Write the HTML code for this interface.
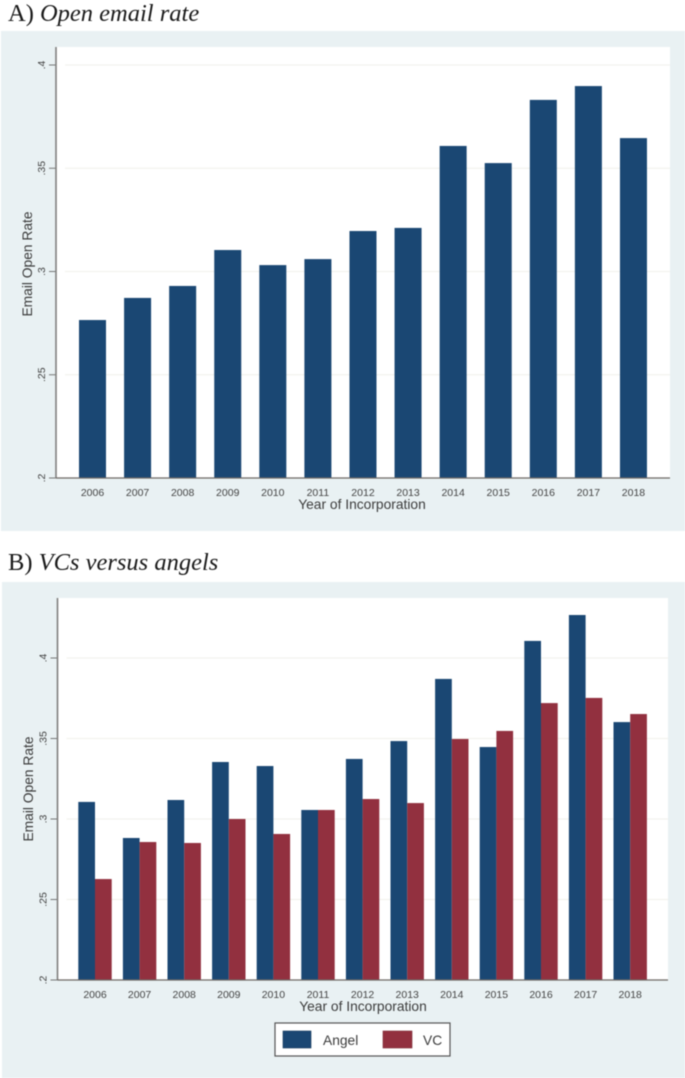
<!DOCTYPE html>
<html lang="en">
<head>
<meta charset="utf-8">
<title>Email open rate by year of incorporation</title>
<style>
html,body{margin:0;padding:0;background:#fff;width:685px;height:1078px;overflow:hidden}
svg{display:block;filter:blur(0.45px)}
.cap{font-family:"Liberation Serif",serif;font-size:24.5px;fill:#1a1a1a}
.tk{font-family:"Liberation Sans",sans-serif;font-size:10.5px;fill:#444}
.ttl{font-family:"Liberation Sans",sans-serif;font-size:13.8px;fill:#3c3c3c}
</style>
</head>
<body>
<svg id="figure" xmlns="http://www.w3.org/2000/svg" width="685" height="1078" viewBox="0 0 685 1078">
  <text class="cap" x="8" y="21">A) <tspan font-style="italic">Open email rate</tspan></text>
  <text class="cap" x="8" y="570">B) <tspan font-style="italic">VCs versus angels</tspan></text>
  <g id="panelA"></g>
  <g id="panelB"></g>
  <g>
    <rect x="275" y="1023" width="175" height="33" fill="#fff" stroke="#555" stroke-width="1.2"/>
    <rect x="283" y="1031" width="28" height="17" fill="#1a4773" stroke="#15375a" stroke-width="0.6"/>
    <text class="ttl" x="323" y="1045">Angel</text>
    <rect x="383" y="1031" width="29" height="17" fill="#92303f" stroke="#7c2a36" stroke-width="0.6"/>
    <text class="ttl" x="423" y="1045">VC</text>
  </g>
</svg>
<script>
const years = ['2006','2007','2008','2009','2010','2011','2012','2013','2014','2015','2016','2017','2018'];
const openRateAll = [0.2765,0.2872,0.2930,0.3104,0.3031,0.3060,0.3196,0.3211,0.3608,0.3525,0.3831,0.3898,0.3646];
const openRateAngel = [0.3106,0.2882,0.3118,0.3354,0.3329,0.3056,0.3373,0.3484,0.3870,0.3447,0.4106,0.4267,0.3602];
const openRateVC = [0.2627,0.2857,0.2851,0.3000,0.2907,0.3056,0.3124,0.3099,0.3497,0.3547,0.3720,0.3752,0.3652];
const yTicks = [0.2,0.25,0.3,0.35,0.4];
const yTickLabels = ['.2','.25','.3','.35','.4'];
const xAxisTitle = 'Year of Incorporation';
const yAxisTitle = 'Email Open Rate';

const NS = 'http://www.w3.org/2000/svg';
function mk(parent, tag, attrs, text) {
  const el = document.createElementNS(NS, tag);
  for (const k in attrs) el.setAttribute(k, attrs[k]);
  if (text !== undefined) el.textContent = text;
  parent.appendChild(el);
  return el;
}

function drawPanel(parent, cfg) {
  const yScale = v => cfg.y0 + (v - 0.2) * cfg.pxPerUnit;
  const xScale = i => cfg.x0 + i * cfg.step;
  const ax = cfg.axisX;

  const bg = mk(parent, 'rect', {x: cfg.bgLeft, y: cfg.bgTop, width: 685 - cfg.bgLeft, height: cfg.bgBottom - cfg.bgTop, fill: '#e9f1f3'});
  
  

  const plot = mk(parent, 'rect', {x: ax, y: cfg.plotTop, width: cfg.plotRight - ax, height: yScale(0.2) - cfg.plotTop, fill: '#fff'});
  
  

  yTicks.forEach((t, i) => {
    const y = yScale(t);
    if (i > 0) {
      const grid = mk(parent, 'line', {x1: ax + 9, x2: cfg.plotRight, y1: y, y2: y, stroke: '#f3f3ee', 'stroke-width': 1.2});
      
      
    }
    const tick = mk(parent, 'line', {x1: ax - 7, x2: ax, y1: y, y2: y, stroke: '#777', 'stroke-width': 1});
    
    
    const lab = mk(parent, 'text', {class: 'tk', x: 0, y: 0, 'text-anchor': 'middle', transform: 'translate(' + (ax - 11) + ' ' + y + ') rotate(-90)'}, yTickLabels[i]);
    
    
  });

  const n = cfg.series.length;
  cfg.series.forEach(s => {
    s.values.forEach((v, i) => {
      const top = yScale(v);
      const left = xScale(i) - n * cfg.barW / 2 + s.index * cfg.barW;
      const bar = mk(parent, 'rect', {x: left, y: top, width: cfg.barW, height: yScale(0.2) - top, fill: s.color});
      
      
    });
  });

  years.forEach((yr, i) => {
    const lab = mk(parent, 'text', {class: 'tk', x: xScale(i), y: yScale(0.2) + 18, 'text-anchor': 'middle'}, yr);
    
    
  });

  const yAxis = mk(parent, 'line', {x1: ax, x2: ax, y1: cfg.plotTop, y2: yScale(0.2), stroke: '#807f7d', 'stroke-width': 1.6});
  
  
  const xAxis = mk(parent, 'line', {x1: ax, x2: cfg.plotRight, y1: yScale(0.2), y2: yScale(0.2), stroke: '#6f6a66', 'stroke-width': 1.2});
  
  

  const xt = mk(parent, 'text', {class: 'ttl', x: cfg.xTitleX, y: yScale(0.2) + 31, 'text-anchor': 'middle'}, xAxisTitle);
  
  
  const yt = mk(parent, 'text', {class: 'ttl', x: 0, y: 0, 'text-anchor': 'middle', transform: 'translate(' + cfg.yTitleX + ' ' + cfg.yTitleY + ') rotate(-90)'}, yAxisTitle);
  
  
}

drawPanel(document.getElementById('panelA'), {
  bgLeft: 1, bgTop: 31, bgBottom: 531, plotTop: 47, plotRight: 670, axisX: 56,
  y0: 478, pxPerUnit: -2065, x0: 92.5, step: 45.08, barW: 27, xTitleX: 362, yTitleX: 32, yTitleY: 264,
  series: [{index: 0, values: openRateAll, color: '#1a4773'}]
});
drawPanel(document.getElementById('panelB'), {
  bgLeft: 2, bgTop: 582, bgBottom: 1078, plotTop: 598, plotRight: 668, axisX: 57.5,
  y0: 980, pxPerUnit: -1610, x0: 95, step: 44.6, barW: 16.7, xTitleX: 363, yTitleX: 33, yTitleY: 789,
  series: [
    {index: 0, values: openRateAngel, color: '#1a4773'},
    {index: 1, values: openRateVC, color: '#92303f'}
  ]
});
</script>
</body>
</html>
